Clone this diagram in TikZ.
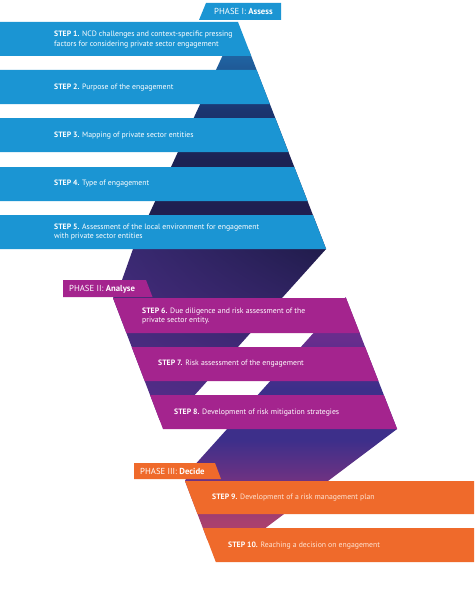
\documentclass[tikz,border=0pt]{standalone}
\usepackage{fontspec}
\setmainfont{PT Sans}
\usetikzlibrary{shadings}
\definecolor{cblue}{HTML}{1B95D3}
\definecolor{cmag}{HTML}{A4248E}
\definecolor{corange}{HTML}{EF6A2B}
\definecolor{peach}{HTML}{FDE4D4}
\definecolor{aA}{HTML}{2068A6}
\definecolor{aB}{HTML}{1F5E9C}
\definecolor{aC}{HTML}{1B3570}
\definecolor{aD}{HTML}{1C2254}
\definecolor{aE}{HTML}{221D4E}
\definecolor{bA}{HTML}{6E2D8D}
\definecolor{bB}{HTML}{682D8D}
\definecolor{bC}{HTML}{3D2F8A}
\definecolor{bD}{HTML}{3D2F8A}
\definecolor{bE}{HTML}{6E3282}
\definecolor{bF}{HTML}{A8406E}
\definecolor{bG}{HTML}{B0426B}
\definecolor{cUR}{HTML}{201C4B}
\definecolor{cUL}{HTML}{3B2A74}
\definecolor{cLL}{HTML}{5A2D8C}
\definecolor{cLR}{HTML}{4A2F8A}
\pgfdeclareverticalshading{ribA}{100bp}{color(0bp)=(aE); color(25bp)=(aE); color(47.4bp)=(aD); color(59.9bp)=(aC); color(71.7bp)=(aB); color(75bp)=(aA); color(100bp)=(aA)}
\pgfdeclareverticalshading{ribB}{100bp}{color(0bp)=(bG); color(25bp)=(bG); color(28.9bp)=(bF); color(37.4bp)=(bE); color(45.6bp)=(bD); color(56.3bp)=(bC); color(66.2bp)=(bB); color(75bp)=(bA); color(100bp)=(bA)}
\begin{document}
\begin{tikzpicture}[x=1pt,y=-1pt,
  steptext/.style={text=white, font=\fontsize{7.75}{9.6}\selectfont, align=left, anchor=west, inner sep=0pt},
  phasetext/.style={text=white, font=\fontsize{8.7}{10}\selectfont, anchor=west, inner sep=0pt},
  blueband/.style={fill=cblue},
  magband/.style={fill=cmag},
  orband/.style={fill=corange}]
\useasboundingbox (0,0) rectangle (474,594);
\fill[white] (0,0) rectangle (474,594);
% ribbons (behind)
\shade[shading=ribA] (225.2,50) -- (248.9,50) -- (326.1,249) -- (133,249) -- cycle;
\shade[upper right=cUR, upper left=cUL, lower left=cLL, lower right=cLR]
  (133,249) -- (326.1,249) -- (172.2,420) -- (159.6,420) -- (113,298) -- (122,280) -- cycle;
\shade[shading=ribB] (345.7,297.2) -- (397.1,429) -- (249.5,540) -- (207.4,540) -- (185,481) -- (190.2,470) -- cycle;
% Phase I bands
\fill[blueband] (0,22) -- (238,22) -- (251.2,56) -- (0,56) -- cycle;
\fill[blueband] (0,70) -- (256.6,70) -- (269.8,104) -- (0,104) -- cycle;
\fill[blueband] (0,118) -- (275.2,118) -- (288.4,152) -- (0,152) -- cycle;
\fill[blueband] (0,167) -- (294.3,167) -- (307.5,201) -- (0,201) -- cycle;
\fill[blueband] (0,215) -- (312.9,215) -- (326.1,249) -- (0,249) -- cycle;
% Phase II bands
\fill[magband] (113,298) -- (346,298) -- (359.7,333) -- (126.4,333) -- cycle;
\fill[magband] (131.7,347) -- (365.1,347) -- (378.4,381) -- (144.7,381) -- cycle;
\fill[magband] (150.1,395) -- (383.8,395) -- (397.1,429) -- (163,429) -- cycle;
% Phase III bands
\fill[orband] (185,481) -- (474,481) -- (474,514) -- (197.5,514) -- cycle;
\fill[orband] (202.9,528) -- (474,528) -- (474,562) -- (215.8,562) -- cycle;
% phase labels
\fill[cblue] (206,3) -- (281,3) -- (281,20) -- (199,20) -- cycle;
\fill[cmag] (63,280) -- (146,280) -- (152.5,297) -- (63,297) -- cycle;
\fill[corange] (134,463) -- (215,463) -- (221,479) -- (134,479) -- cycle;
\node[phasetext] (p1) at (214,11.8) {PHASE I: \textbf{Assess}};
\node[phasetext] (p2) at (69,288.8) {PHASE II: \textbf{Analyse}};
\node[phasetext] (p3) at (140,471.2) {PHASE III: \textbf{Decide}};
% step texts
\node[steptext] (s1) at (54,39.5) {\textbf{STEP 1.} NCD challenges and context-specific pressing\\factors for considering private sector engagement};
\node[steptext] (s2) at (54,87.5) {\textbf{STEP 2.} Purpose of the engagement};
\node[steptext] (s3) at (54,135.5) {\textbf{STEP 3.} Mapping of private sector entities};
\node[steptext] (s4) at (54,184) {\textbf{STEP 4.} Type of engagement};
\node[steptext] (s5) at (54,232) {\textbf{STEP 5.} Assessment of the local environment for engagement\\with private sector entities};
\node[steptext] (s6) at (142,316) {\textbf{STEP 6.} Due diligence and risk assessment of the\\private sector entity.};
\node[steptext] (s7) at (158,364) {\textbf{STEP 7.} Risk assessment of the engagement};
\node[steptext] (s8) at (174,412.5) {\textbf{STEP 8.} Development of risk mitigation strategies};
\node[steptext, text=peach] (s9) at (212,497.5) {\textcolor{white}{\textbf{STEP 9.}} Development of a risk management plan};
\node[steptext, text=peach] (s10) at (228,545.5) {\textcolor{white}{\textbf{STEP 10.}} Reaching a decision on engagement};
\end{tikzpicture}
\end{document}
